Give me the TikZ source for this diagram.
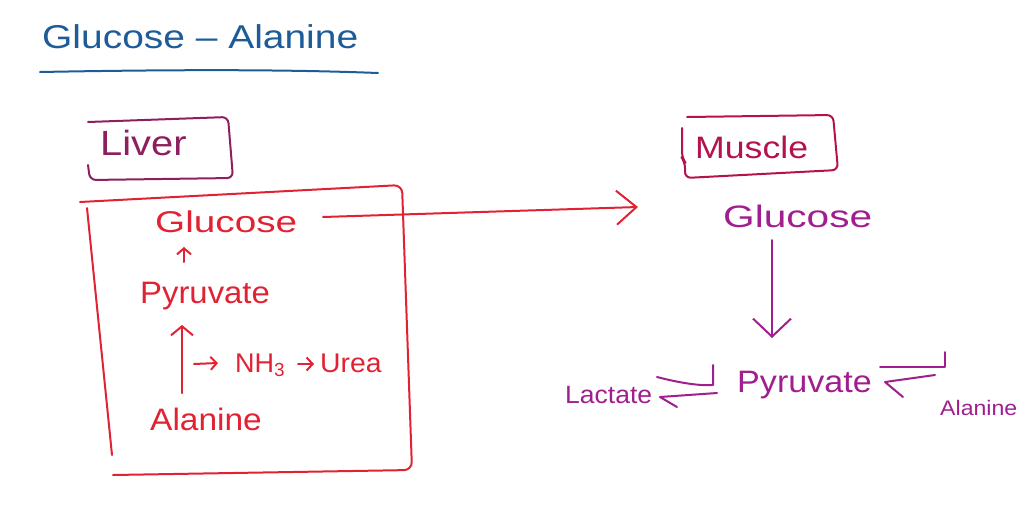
\documentclass[tikz,border=0pt]{standalone}
\usepackage{fontspec}
\setmainfont{Liberation Sans}
\usetikzlibrary{arrows.meta}
\definecolor{ttl}{HTML}{1D5C99}
\definecolor{lbox}{HTML}{8E1F5E}
\definecolor{lred}{HTML}{E12233}
\definecolor{mbox}{HTML}{B3124E}
\definecolor{mpur}{HTML}{A11E8E}
\tikzset{
  pen/.style={line width=2pt, line cap=round, line join=round},
  lbl/.style={inner sep=0pt, anchor=base west},
}
\newcommand{\fs}[3]{\fontsize{#1}{#1}\selectfont\scalebox{#2}[1]{#3}}
\begin{document}
\begin{tikzpicture}[x=1pt,y=-1pt]
\useasboundingbox (0,0) rectangle (1024,512);
% title
\node[lbl, text=ttl] (title) at (42,48) {\fs{33}{1.18}{Glucose -- Alanine}};
\coordinate (ul1) at (40,72);
\coordinate (ul2) at (378,73);
\draw[pen, ttl] (ul1) .. controls (200,69) and (300,70) .. (ul2);
% Liver label box
\node[lbl, text=lbox] (liver) at (100,155) {\fs{35}{1.14}{Liver}};
\draw[pen, lbox, rounded corners=6pt] (88,122) -- (228,117) -- (233,178) -- (90,180) -- (88,165);
% big red box
\draw[pen, lred, rounded corners=8pt] (80,202) -- (402,185) -- (412,470) -- (113,475);
\draw[pen, lred] (87,208) -- (112,455);
% liver contents
\node[lbl, text=lred] (lglu) at (155,232) {\fs{30}{1.29}{Glucose}};
\node[lbl, text=lred] (lpyr) at (140,303) {\fs{31}{1.06}{Pyruvate}};
\node[lbl, text=lred] (lala) at (150,430) {\fs{31}{1.08}{Alanine}};
\node[lbl, text=lred] (nh3) at (235,372) {\fs{27}{1}{NH\textsubscript{3}}};
\node[lbl, text=lred] (urea) at (320,372) {\fs{27}{1.05}{Urea}};
\coordinate (sa) at (184,262);
\coordinate (sb) at (184,247);
\draw[pen, lred, -{Straight Barb[length=6pt,width=14pt,line width=2pt]}] (sa) -- (sb);
\coordinate (ba) at (182,393);
\coordinate (bb) at (182,325);
\draw[pen, lred, -{Straight Barb[length=9pt,width=22pt,line width=2pt]}] (ba) -- (bb);
\coordinate (na) at (194,364);
\coordinate (nb) at (218,363);
\draw[pen, lred, -{Straight Barb[length=6pt,width=13pt,line width=2pt]}] (na) -- (nb);
\coordinate (ua) at (298,364);
\coordinate (ub) at (314,364);
\draw[pen, lred, -{Straight Barb[length=6pt,width=13pt,line width=2pt]}] (ua) -- (ub);
% long arrow
\coordinate (la) at (323,217);
\coordinate (lb) at (638,207);
\draw[pen, lred, -{Straight Barb[length=20pt,width=34pt,line width=2pt]}] (la) -- (lb);
% muscle box
\node[lbl, text=mbox] (muscle) at (695,158) {\fs{31}{1.15}{Muscle}};
\draw[pen, mbox, rounded corners=6pt] (682,128) -- (682,158) -- (685,162) -- (685,178) -- (838,170) -- (833,115) -- (687,117);
% muscle contents
\node[lbl, text=mpur] (mglu) at (723,227) {\fs{31}{1.31}{Glucose}};
\node[lbl, text=mpur] (mpyr) at (737,392) {\fs{31}{1.1}{Pyruvate}};
\node[lbl, text=mpur] (lact) at (565,403) {\fs{25}{1.06}{Lactate}};
\node[lbl, text=mpur] (mala) at (940,415) {\fs{21}{1.1}{Alanine}};
\coordinate (da) at (772,240);
\coordinate (db) at (772,338);
\draw[pen, mpur, -{Straight Barb[length=18pt,width=38pt,line width=2pt]}] (da) -- (db);
% harpoons left
\coordinate (h1) at (657,377);
\coordinate (h2) at (713,385);
\coordinate (h3) at (713,365);
\coordinate (h4) at (717,393);
\coordinate (h5) at (660,397);
\coordinate (h6) at (677,407);
\draw[pen, mpur] (h1) .. controls (680,383) and (700,386) .. (h2) -- (h3);
\draw[pen, mpur] (h4) -- (h5) -- (h6);
% harpoons right
\coordinate (r1) at (880,367);
\coordinate (r2) at (945,367);
\coordinate (r3) at (945,352);
\coordinate (r4) at (935,375);
\coordinate (r5) at (885,382);
\coordinate (r6) at (903,397);
\draw[pen, mpur] (r1) -- (r2) -- (r3);
\draw[pen, mpur] (r4) -- (r5) -- (r6);
\end{tikzpicture}
\end{document}
